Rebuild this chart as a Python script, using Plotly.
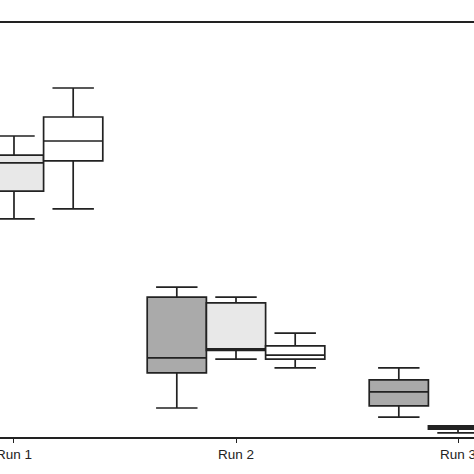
import plotly.graph_objects as go

# Categories
runs_dark = ["Run 2", "Run 3"]
runs_light = ["Run 1", "Run 2", "Run 3"]
runs_white = ["Run 1", "Run 2"]

# Box statistics (arbitrary units)
dark_low = [7.0, 4.8]
dark_q1 = [15.5, 7.5]
dark_med = [19.1, 10.9]
dark_q3 = [33.8, 13.8]
dark_up = [36.2, 16.7]

light_low = [52.7, 18.8, 1.0]
light_q1 = [59.4, 20.9, 1.9]
light_med = [66.2, 21.3, 2.3]
light_q3 = [68.1, 32.4, 2.7]
light_up = [72.7, 33.8, 2.7]

white_low = [55.1, 16.7]
white_q1 = [66.7, 18.8]
white_med = [71.5, 19.8]
white_q3 = [77.3, 22.0]
white_up = [84.3, 25.1]

categories = ["Run 1", "Run 2", "Run 3"]

line_col = "#222222"
fig = go.Figure()
for name, xs, lo, q1, md, q3, up, fill in [
    ("A", runs_dark, dark_low, dark_q1, dark_med, dark_q3, dark_up, "#aaaaaa"),
    ("B", runs_light, light_low, light_q1, light_med, light_q3, light_up, "#e8e8e8"),
    ("C", runs_white, white_low, white_q1, white_med, white_q3, white_up, "#ffffff"),
]:
    fig.add_trace(go.Box(
        name=name, x=xs, lowerfence=lo, q1=q1, median=md, q3=q3, upperfence=up,
        fillcolor=fill, line=dict(color=line_col, width=1.7),
        whiskerwidth=0.7, boxpoints=False, showlegend=False, hoverinfo="skip",
    ))

fig.update_layout(
    width=474, height=474,
    margin=dict(l=0, r=0, t=23, b=37, autoexpand=False),
    paper_bgcolor="white", plot_bgcolor="white",
    boxmode="group", boxgap=0.2, boxgroupgap=0,
    showlegend=False,
    font=dict(family="Liberation Sans, Arial, sans-serif", size=13.5, color="#222222"),
    xaxis=dict(
        type="category", categoryorder="array", categoryarray=categories,
        range=[-0.063, 2.072], showline=True, linecolor=line_col, linewidth=1.7,
        mirror=True, ticks="outside", ticklen=4, tickcolor=line_col,
        showgrid=False, zeroline=False, tickfont=dict(size=13.5),
        automargin=False, ticklabeloverflow="allow",
    ),
    yaxis=dict(range=[0, 100], visible=False, showgrid=False, zeroline=False,
               automargin=False),
)

fig.write_html(
    "out.html",
    config={"displayModeBar": False, "staticPlot": True},
    post_script="document.body.style.margin='0';document.body.style.overflow='hidden';",
)
